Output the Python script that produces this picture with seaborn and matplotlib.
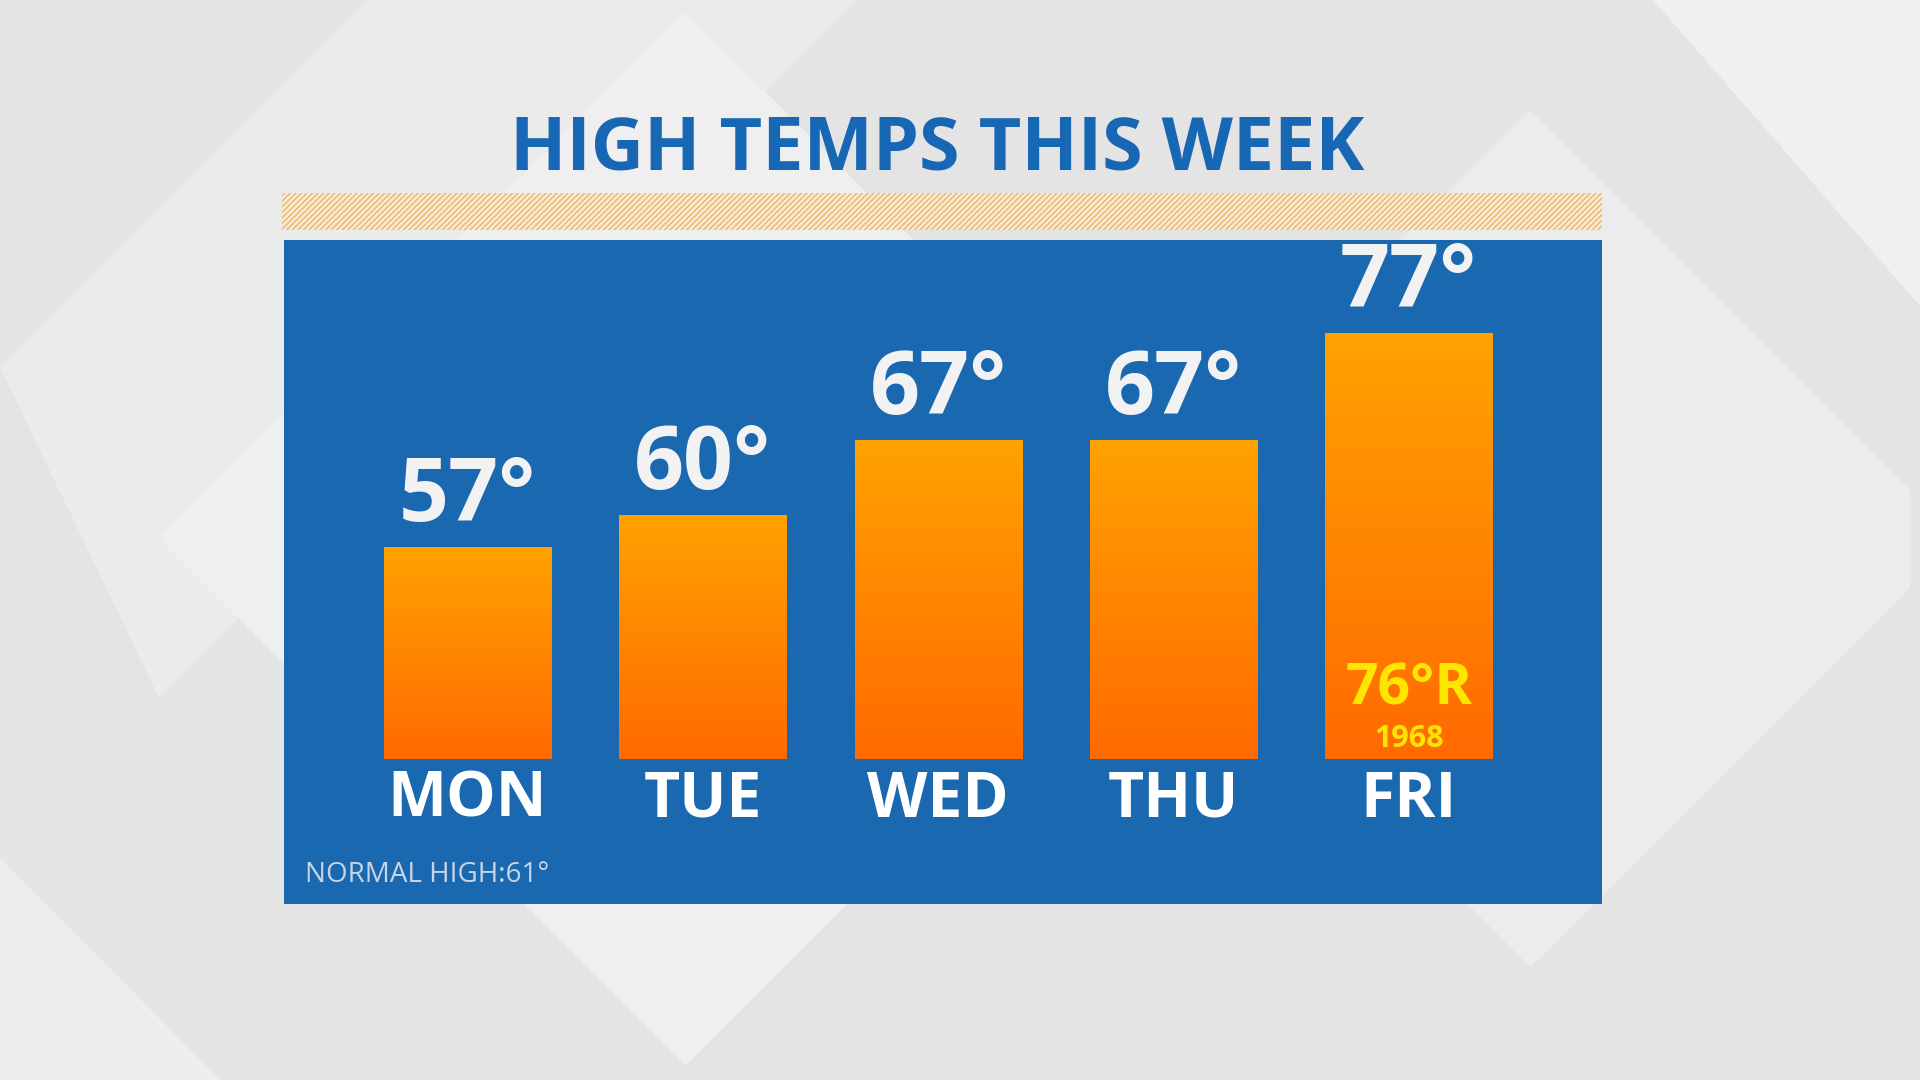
import numpy as np
import matplotlib
matplotlib.use("Agg")
import matplotlib.pyplot as plt
import seaborn as sns
from matplotlib.patches import Rectangle, Polygon
from matplotlib.colors import LinearSegmentedColormap

days = ["MON", "TUE", "WED", "THU", "FRI"]
highs = [57, 60, 67, 67, 77]
title = "HIGH TEMPS THIS WEEK"
record_text = "76°R"
record_year = "1968"
normal_text = "NORMAL HIGH:61°"
base = 37.2

sns.set_theme(style="white")
plt.rcParams['font.family'] = ['Open Sans', 'DejaVu Sans']

W, H = 1568, 882
fig = plt.figure(figsize=(19.2, 10.8), dpi=100)
fig.patch.set_facecolor('#E4E4E4')

bg = fig.add_axes([0, 0, 1, 1]); bg.set_xlim(0, W); bg.set_ylim(H, 0); bg.axis('off')
for pts, c in [([(0, 300), (300, 0), (700, 0), (130, 570)], '#EBEBEB'),
               ([(130, 440), (560, 10), (990, 440), (560, 870)], '#EFEFEF'),
               ([(900, 440), (1250, 90), (1560, 400), (1560, 480), (1250, 790)], '#ECECEC'),
               ([(1350, 0), (1568, 0), (1568, 250)], '#F0F0F0'),
               ([(0, 700), (180, 882), (0, 882)], '#EDEDED')]:
    bg.add_patch(Polygon(pts, closed=True, facecolor=c, edgecolor='none'))
bg.add_patch(Rectangle((230, 158), 1078, 30, facecolor='#F8EBD2', edgecolor='#E8B670', hatch='//////', lw=0))
bg.add_patch(Rectangle((232, 196), 1076, 542, facecolor='#1A68B0', edgecolor='none'))
bg.text(765, 123, title, ha='center', va='center', color='#1767B5', fontsize=53, fontweight='bold')

x0, x1, y0, y1 = 232, 1308, 196, 738
ax = fig.add_axes([x0 / W, 1 - y1 / H, (x1 - x0) / W, (y1 - y0) / H])
sns.barplot(x=days, y=highs, ax=ax, width=0.71, color='#FF8C00')
ax.set_xlim(-0.78, 4.82)
ax.set_ylim(23.7, 85.7)
ax.axis('off')

grad = np.linspace(0, 1, 256).reshape(-1, 1)
cmap = LinearSegmentedColormap.from_list('o', ['#FF6A00', '#FFA200'])
for p, v, d in zip(ax.patches, highs, days):
    p.set_y(base); p.set_height(v - base)
    p.set_facecolor('none'); p.set_edgecolor('none')
    xl, w = p.get_x(), p.get_width()
    im = ax.imshow(grad, cmap=cmap, aspect='auto', origin='lower',
                   extent=[xl, xl + w, base, v], zorder=2)
    im.set_clip_path(p)
    ax.annotate(f"{v}°", (xl + w / 2, v), xytext=(0, 4), textcoords='offset points',
                ha='center', va='bottom', color='#F2F2F2', fontsize=63, fontweight='bold')
    ax.text(xl + w / 2, base - 0.9, d, ha='center', va='top', color='white',
            fontsize=45, fontweight='bold')

fx = ax.patches[-1].get_x() + ax.patches[-1].get_width() / 2
ax.text(fx, 43.7, record_text, ha='center', va='center', color='#FFE600', fontsize=41, fontweight='bold', zorder=3)
ax.text(fx, 39.1, record_year, ha='center', va='center', color='#FFE600', fontsize=22, fontweight='bold', zorder=3)
ax.text(-0.69, 26.4, normal_text, ha='left', va='center', color='#C8D4E4', fontsize=20)

fig.savefig('out.png', dpi=100, facecolor=fig.get_facecolor())
